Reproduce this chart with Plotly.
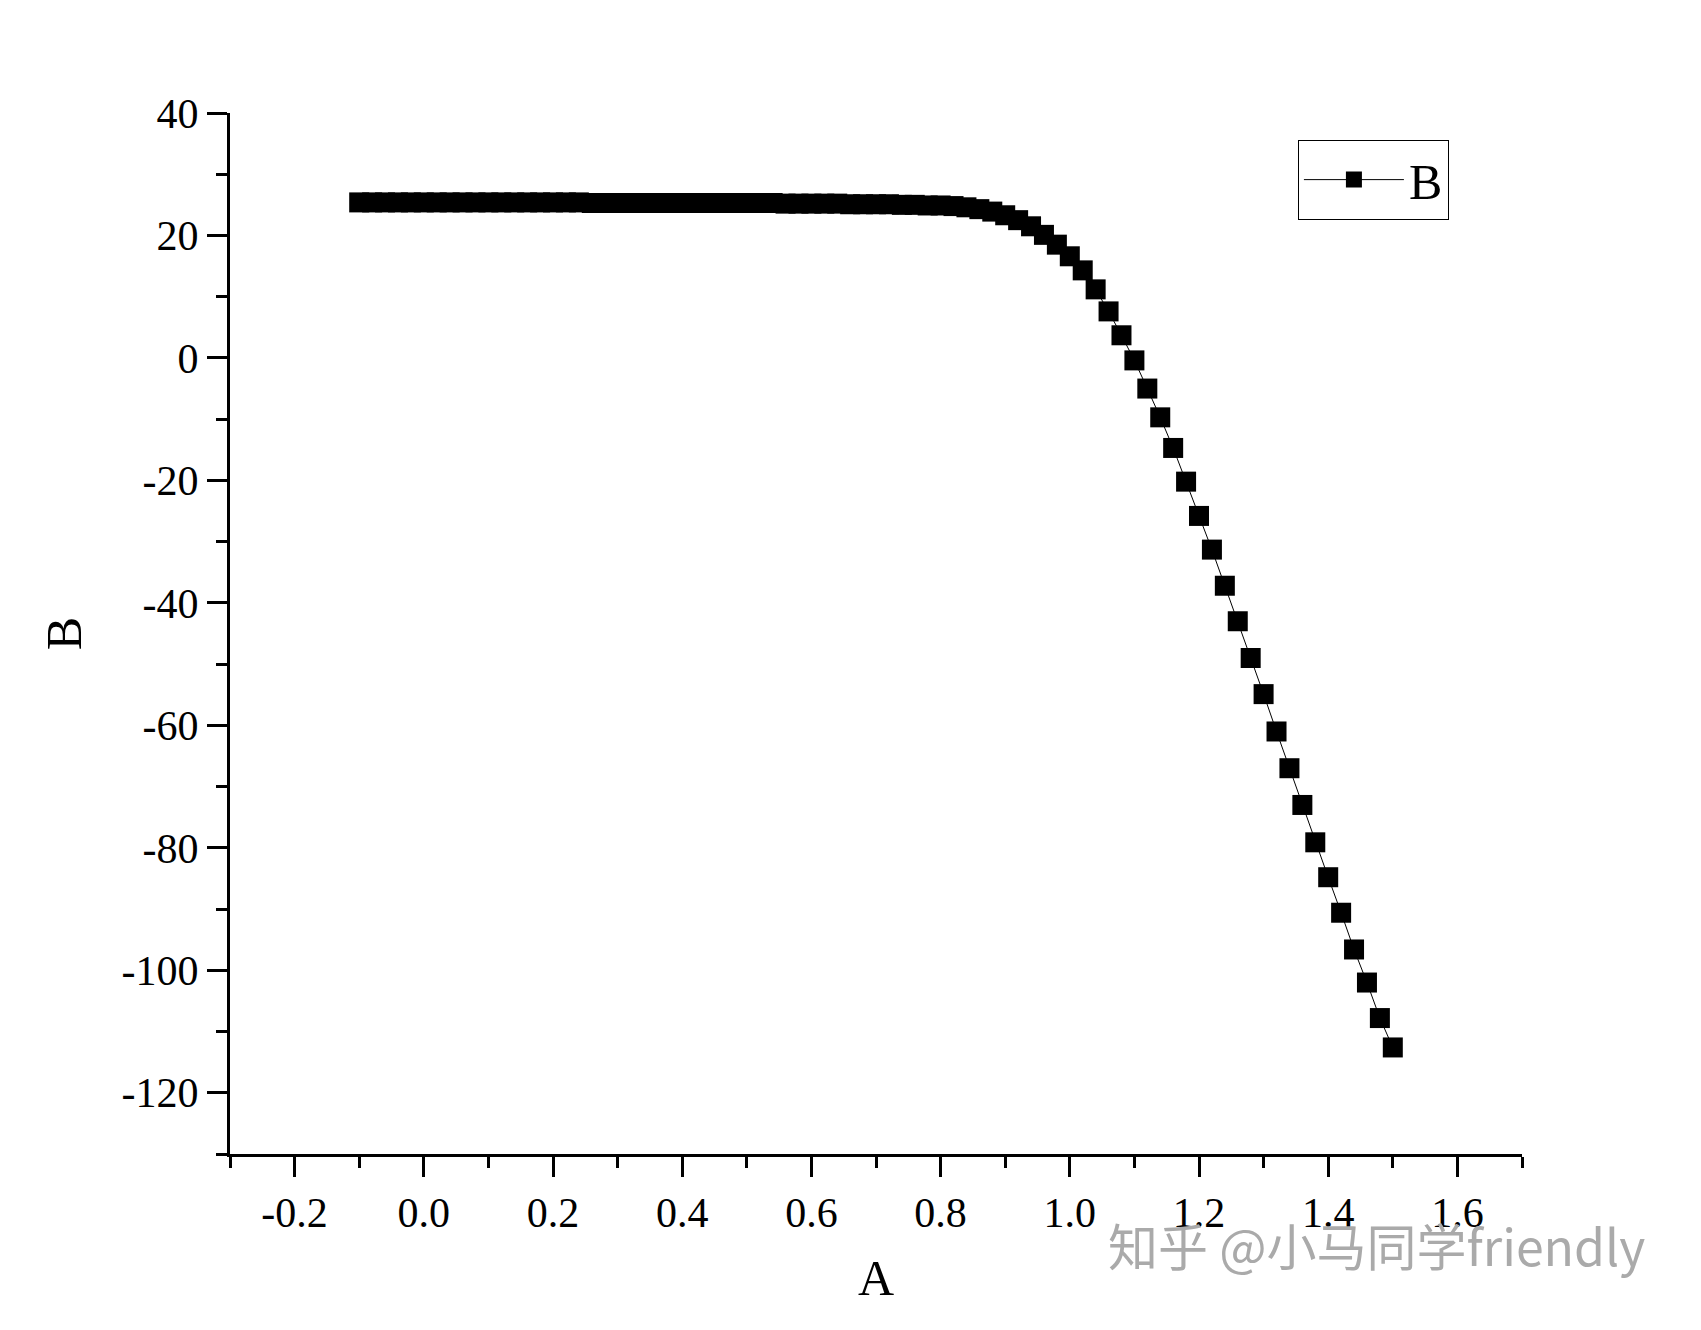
import plotly.graph_objects as go

A = [-0.10, -0.08, -0.06, -0.04, -0.02, 0.00, 0.02, 0.04, 0.06, 0.08,
     0.10, 0.12, 0.14, 0.16, 0.18, 0.20, 0.22, 0.24, 0.26, 0.28,
     0.30, 0.32, 0.34, 0.36, 0.38, 0.40, 0.42, 0.44, 0.46, 0.48,
     0.50, 0.52, 0.54, 0.56, 0.58, 0.60, 0.62, 0.64, 0.66, 0.68,
     0.70, 0.72, 0.74, 0.76, 0.78, 0.80, 0.82, 0.84, 0.86, 0.88,
     0.90, 0.92, 0.94, 0.96, 0.98, 1.00, 1.02, 1.04, 1.06, 1.08,
     1.10, 1.12, 1.14, 1.16, 1.18, 1.20, 1.22, 1.24, 1.26, 1.28,
     1.30, 1.32, 1.34, 1.36, 1.38, 1.40, 1.42, 1.44, 1.46, 1.48, 1.50]
B = [25.4, 25.4, 25.4, 25.4, 25.4, 25.4, 25.4, 25.4, 25.4, 25.4,
     25.4, 25.4, 25.4, 25.4, 25.4, 25.4, 25.4, 25.4, 25.3, 25.3,
     25.3, 25.3, 25.3, 25.3, 25.3, 25.3, 25.3, 25.3, 25.3, 25.3,
     25.3, 25.3, 25.3, 25.2, 25.2, 25.2, 25.2, 25.2, 25.1, 25.1,
     25.1, 25.1, 25.0, 25.0, 24.9, 24.9, 24.8, 24.6, 24.3, 23.9,
     23.3, 22.5, 21.5, 20.1, 18.5, 16.6, 14.3, 11.2, 7.6, 3.7,
     -0.4, -5.0, -9.7, -14.7, -20.2, -25.8, -31.3, -37.2, -43.0, -49.0,
     -54.9, -61.0, -67.0, -73.0, -79.1, -84.8, -90.6, -96.6, -102.0, -107.8, -112.6]

xticks = [-0.2, 0.0, 0.2, 0.4, 0.6, 0.8, 1.0, 1.2, 1.4, 1.6]
xlabels = ["-0.2", "0.0", "0.2", "0.4", "0.6", "0.8", "1.0", "1.2", "1.4", "1.6"]
yticks = [40, 20, 0, -20, -40, -60, -80, -100, -120]
ylabels = ["40", "20", "0", "-20", "-40", "-60", "-80", "-100", "-120"]

font = "Liberation Serif, Times New Roman, serif"

fig = go.Figure(go.Scatter(
    x=A, y=B, mode="lines+markers", name="B",
    line=dict(color="black", width=1),
    marker=dict(symbol="square", size=20, color="black"),
))

axis_common = dict(
    showline=True, linecolor="black", linewidth=3, mirror=False,
    ticks="outside", ticklen=20, tickwidth=3, tickcolor="black",
    showgrid=False, zeroline=False,
    tickfont=dict(family=font, size=42, color="black"),
    minor=dict(ticks="outside", ticklen=11, tickwidth=3, tickcolor="black", showgrid=False),
)

fig.update_xaxes(range=[-0.3, 1.7], tickvals=xticks, ticktext=xlabels,
                 minor_dtick=0.1, minor_tick0=-0.3,
                 title=dict(text="A", font=dict(family=font, size=50, color="black"), standoff=25),
                 **axis_common)
fig.update_yaxes(range=[-130, 40], tickvals=yticks, ticktext=ylabels, minor_dtick=10, minor_tick0=0,
                 title=dict(text="B", font=dict(family=font, size=50, color="black"), standoff=25),
                 **axis_common)

fig.update_layout(
    width=1701, height=1330,
    margin=dict(l=222, r=187, t=105, b=184),
    plot_bgcolor="white", paper_bgcolor="white",
    showlegend=True,
    legend=dict(x=0.885, y=0.936, xanchor="center", yanchor="middle",
                bordercolor="black", borderwidth=1, bgcolor="white",
                font=dict(family=font, size=50, color="black"),
                itemwidth=100),
    annotations=[dict(text="知乎 @小马同学friendly", xref="paper", yref="paper",
                      x=1.097, y=-0.086, xanchor="right", yanchor="middle", showarrow=False,
                      font=dict(family="Noto Sans CJK SC", size=50, color="#aaaaaa"))],
)

fig.write_html("out.html")
